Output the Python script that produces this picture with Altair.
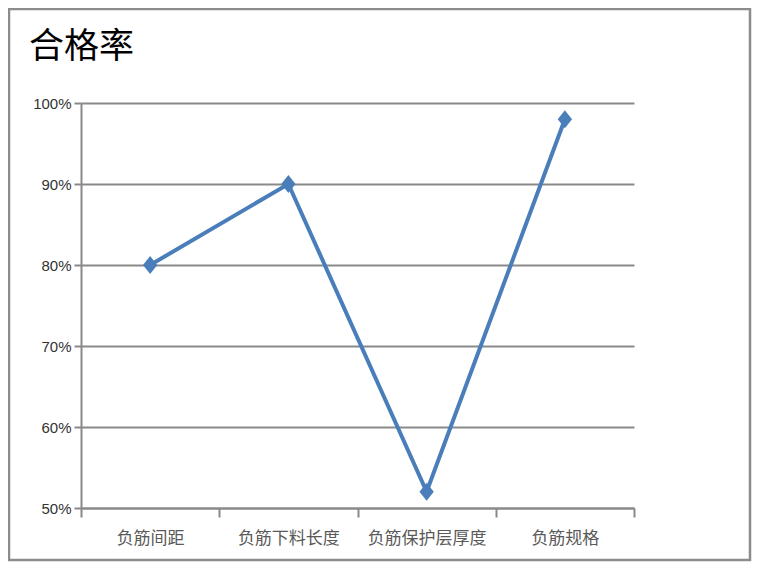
import altair as alt
import pandas as pd

title_text = "合格率"
categories = ["负筋间距", "负筋下料长度", "负筋保护层厚度", "负筋规格"]
rates = [0.80, 0.90, 0.52, 0.98]
y_ticks = [0.5, 0.6, 0.7, 0.8, 0.9, 1.0]

df = pd.DataFrame({"item": categories, "rate": rates})
title_df = pd.DataFrame({"t": [title_text]})

CJK = "Noto Sans CJK SC"
GRID = "#898989"
BLUE = "#4A7EBB"

x_enc = alt.X("item:N", sort=categories, title=None,
              scale=alt.Scale(paddingInner=0, paddingOuter=0),
              axis=alt.Axis(labelAngle=0, labelFont=CJK, labelFontSize=17,
                            labelColor="#595959", labelPadding=13,
                            domainColor=GRID, domainWidth=2,
                            tickColor=GRID, tickWidth=2, tickSize=9,
                            tickBand="extent", grid=False))
y_enc = alt.Y("rate:Q", title=None,
              scale=alt.Scale(domain=[0.5, 1.0], nice=False, zero=False),
              axis=alt.Axis(values=y_ticks, format=".0%",
                            labelFont="Liberation Sans", labelFontSize=15,
                            labelColor="#333333", labelPadding=3,
                            domainColor=GRID, domainWidth=2,
                            tickColor=GRID, tickWidth=2, tickSize=7,
                            grid=True, gridColor=GRID, gridWidth=2))

line = alt.Chart(df).mark_line(color=BLUE, strokeWidth=4).encode(x=x_enc, y=y_enc)
pts = alt.Chart(df).mark_point(
    shape="M-0.8,0L0,1L0.8,0L0,-1Z", filled=True, color=BLUE, opacity=1, size=320
).encode(x=alt.X("item:N", sort=categories), y="rate:Q")

border = alt.Chart(title_df).mark_rect(
    fill=None, stroke="#8c8c8c", strokeWidth=2.5
).encode(x=alt.value(-72), x2=alt.value(669), y=alt.value(-94), y2=alt.value(457))

title = alt.Chart(title_df).mark_text(
    font=CJK, fontSize=35, color="#000000", align="left", baseline="middle"
).encode(text="t:N", x=alt.value(-52), y=alt.value(-56))

chart = alt.layer(border, line, pts, title).properties(
    width=553, height=405,
    background="white",
    autosize=alt.AutoSizeParams(type="none"),
    padding={"left": 73, "top": 95, "right": 118, "bottom": 54},
).configure_view(stroke=None)

chart.save("out.html", embed_options={"renderer": "svg", "actions": False})
